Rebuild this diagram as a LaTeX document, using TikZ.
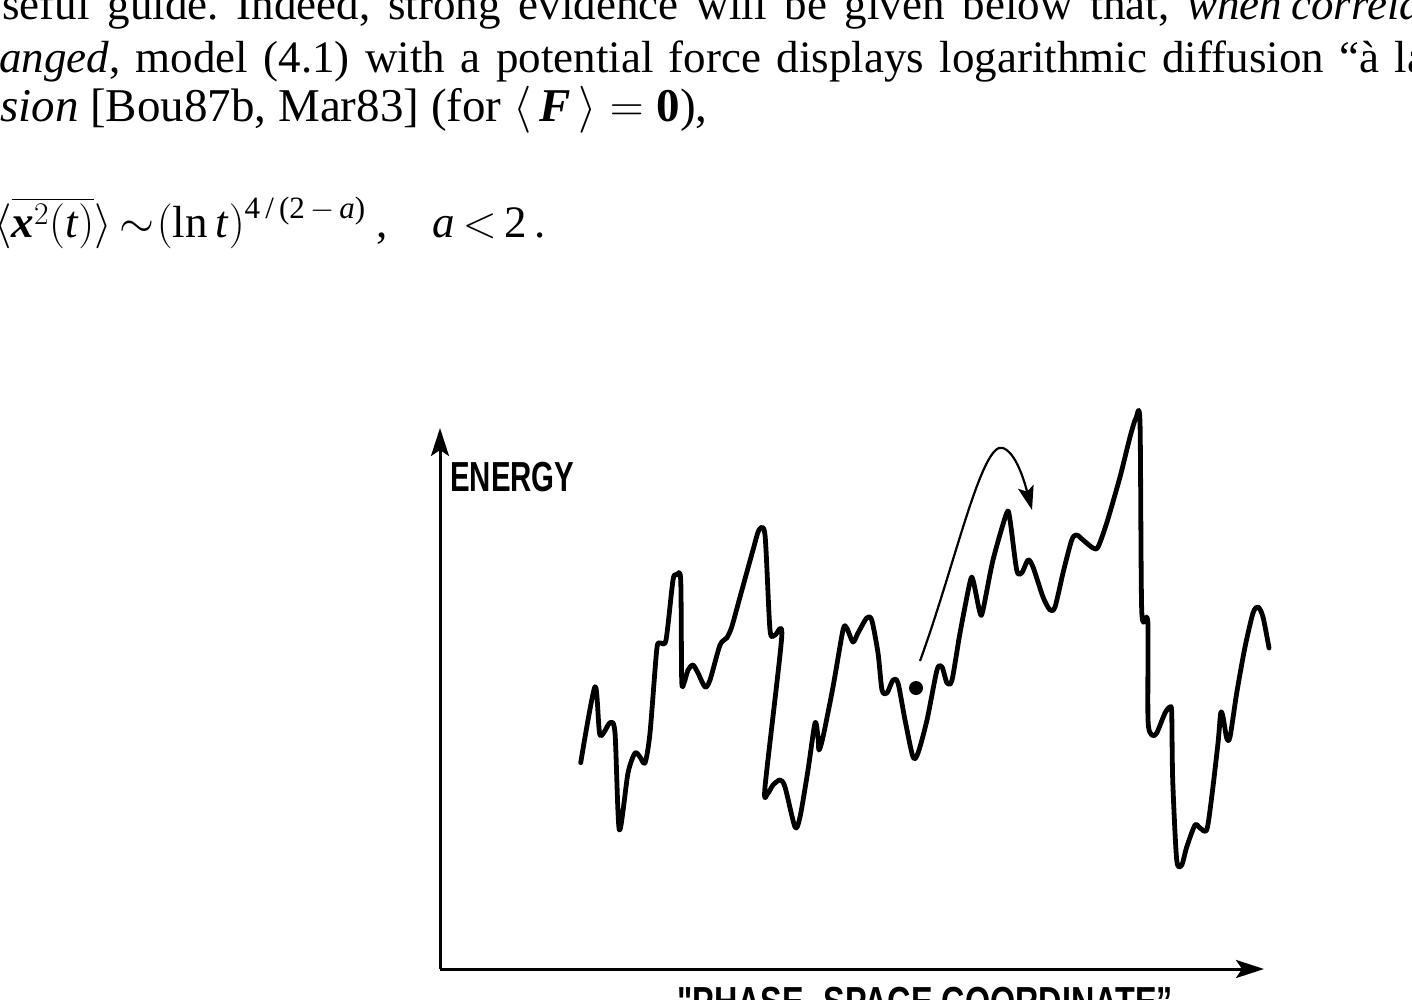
\RequirePackage{fix-cm}
\documentclass[tikz,border=0pt]{standalone}
\usepackage{amsmath}
\usepackage{fontspec}
\setmainfont{Liberation Serif}
\newfontfamily\labfont{Liberation Sans}
\usetikzlibrary{arrows.meta}
\frenchspacing
\tikzset{
  bodytext/.style={anchor=base west, inner sep=0pt, font=\fontsize{45}{52}\selectfont},
  axislabel/.style={anchor=base west, inner sep=0pt, font=\labfont\bfseries\fontsize{42}{46}\selectfont},
  axisline/.style={line width=3pt, -{Stealth[length=28pt,width=18pt,inset=6pt]}},
  landscape/.style={line width=4.8pt, line cap=round, line join=round},
  hop/.style={line width=2.2pt, -{Stealth[length=24pt,width=16pt,inset=5pt]}},
}
\newcommand{\supexp}[1]{\raisebox{19pt}{\fontsize{31}{31}\selectfont #1}}
\begin{document}
\begin{tikzpicture}[x=1pt,y=-1pt]
\useasboundingbox (0,0) rectangle (1412,1000);
\clip (0,0) rectangle (1412,1000);
% page text
\node[bodytext] (l1) at (2,20) {\makebox[1280pt][s]{seful guide. Indeed, strong evidence will be given below that, \textit{when}}\hspace{9pt}\textit{correlations}};
\node[bodytext] (l2) at (-1,73) {\makebox[1428pt][s]{\textit{anged}, model (4.1) with a potential force displays logarithmic diffusion “à la}};
\node[bodytext, font=\fontsize{47}{52}\selectfont] (l3) at (0,122) {\textit{sion} [Bou87b, Mar83] (for $\langle\,\text{\textbf{\textit{F}}}\,\rangle = \text{\textbf{0}}$),};
\node[bodytext] (eq) at (-6,237) {$\langle\overline{\text{\textbf{\textit{x}}}^{2}(\text{\textit{t}})}\rangle\mskip3mu{\sim}\mskip1mu(\text{ln}\,\text{\textit{t}})$\supexp{4\,/\,(2\,$-$\,\textit{a})}\hspace{0.25em},\hspace{1.0em}\textit{a}\,$<$\,2\,.};
% axes
\coordinate (O) at (440,969);
\coordinate (ytip) at (440,428);
\coordinate (xtip) at (1264,969);
\draw[axisline] (O) -- (ytip);
\draw[axisline] (O) -- (xtip);
\node[axislabel] (elab) at (450,491) {\scalebox{0.7}[1]{ENERGY}};
\node[axislabel] (plab) at (677,1016) {\scalebox{0.77}[1]{"PHASE -SPACE COORDINATE”}};
% energy landscape
\draw[landscape] plot[smooth, tension=0.45] coordinates {
(580.7,762.7) (595,686.7) (600,735) (610,722.7) (615,733) (619.3,830)
(628,773) (635,753) (640,757) (645,763) (650,733) (656.7,650) (660,643)
(666,640) (673,580) (676.7,575) (680.7,580) (681.7,680) (684,683) (688,670)
(693,665) (698,673) (705,687) (710,680) (720,645) (726.7,638) (731.7,627)
(740,597) (753,550) (759,530) (765,535) (770,630) (775,635) (781.7,637)
(765,787) (768,793) (773,785) (780,780) (785,787) (795,827) (800,817)
(808,770) (815,723) (818,737) (819,750) (823,737) (833,687) (843,630)
(846.7,628) (853,642) (858,633) (866.7,618) (871.7,620) (878,653) (882,690)
(887,693) (893,680) (898,683) (905,720) (913,757) (918,753) (927,720)
(937,670) (942,667) (947,683) (952,680) (960,633) (970,582) (973,580)
(980,613) (983,610) (993,560) (1006.7,513) (1010,520) (1016.7,570)
(1021.7,573) (1028,560) (1033,567) (1043,597) (1050,610) (1055,607)
(1063,573) (1071.7,540) (1076.7,535) (1083,540) (1093,548) (1098,547)
(1106.7,523) (1120,477) (1130,437) (1136,418) (1140,423) (1141.7,610)
(1146.7,617) (1148,630) (1148,720) (1151.7,735) (1156.7,733) (1165,713)
(1170,707) (1171.7,713) (1172.7,780) (1176.7,860) (1181.7,865) (1186.7,847)
(1195,825) (1200,828) (1206.7,830) (1211.7,797) (1218,743) (1220.7,713)
(1223,717) (1226.7,738) (1230,737) (1236.7,693) (1245,647) (1253,613)
(1258,607) (1263,617) (1269,648)};
% particle and hop
\node[circle, fill=black, inner sep=0pt, minimum size=14pt] (dot) at (916,688) {};
\coordinate (hopstart) at (920,661);
\coordinate (hopend) at (1032,510);
\draw[hop] (hopstart) .. controls (955,565) and (982,440) .. (1003,448) .. controls (1016,453) and (1024,480) .. (hopend);
\end{tikzpicture}
\end{document}
